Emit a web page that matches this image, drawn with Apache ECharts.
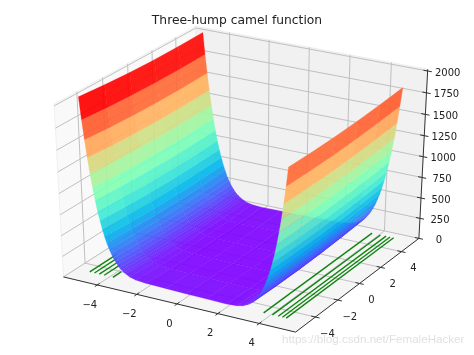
<!DOCTYPE html>
<html>
<head>
<meta charset="utf-8">
<script src="https://cdn.jsdelivr.net/npm/echarts@6/dist/echarts.min.js"></script>
<style>
  html, body { margin: 0; padding: 0; background: #fff; }
  #main { width: 474px; height: 355px; }
</style>
</head>
<body>
<div id="main"></div>
<script>
// values
const xGrid = [-5, -4.9, -4.8, -4.7, -4.6, -4.5, -4.4, -4.3, -4.2, -4.1, -4, -3.9, -3.8, -3.7, -3.6, -3.5, -3.4, -3.3, -3.2, -3.1, -3, -2.8, -2.5, -2, -1, 0, 1, 2, 2.5, 2.8, 3, 3.1, 3.2, 3.3, 3.4, 3.5, 3.6, 3.7, 3.8, 3.9, 4, 4.1, 4.2, 4.3, 4.4, 4.5, 4.6, 4.7, 4.8, 4.9]
const yGrid = [-5, -3, -1, 1, 3, 5.1]
const zAtY1 = [2075, 1825, 1604, 1404, 1223, 1067, 927, 801, 696, 600, 515, 444, 379, 328, 278, 242, 207, 176, 156, 135, 120, 94, 74, 62, 56, 50, 46, 42, 49, 66, 90, 104, 124, 143, 173, 207, 242, 291, 341, 405, 475, 559, 654, 758, 883, 1022, 1177, 1356, 1556, 1775]
const zAtY2 = [2049, 1799, 1578, 1378, 1198, 1042, 902, 777, 672, 576, 491, 421, 355, 305, 255, 219, 184, 154, 134, 113, 98, 72, 53, 42, 38, 34, 32, 30, 38, 56, 80, 95, 114, 134, 164, 198, 233, 283, 333, 397, 467, 552, 646, 751, 876, 1015, 1170, 1350, 1550, 1769]
const zAtY3 = [2031, 1781, 1561, 1361, 1181, 1025, 885, 760, 655, 560, 475, 405, 340, 290, 240, 204, 169, 139, 119, 99, 84, 59, 40, 30, 28, 26, 26, 26, 35, 53, 78, 93, 113, 133, 163, 197, 232, 282, 332, 397, 467, 552, 647, 752, 877, 1016, 1171, 1351, 1551, 1771]
const zAtY4 = [2021, 1771, 1551, 1351, 1171, 1016, 877, 752, 647, 552, 467, 397, 332, 282, 232, 197, 163, 133, 113, 93, 78, 53, 35, 26, 26, 26, 28, 30, 40, 59, 84, 99, 119, 139, 169, 204, 240, 290, 340, 405, 475, 560, 655, 760, 885, 1025, 1181, 1361, 1561, 1781]
const zAtY5 = [2019, 1769, 1550, 1350, 1170, 1015, 876, 751, 646, 552, 467, 397, 333, 283, 233, 198, 164, 134, 114, 95, 80, 56, 38, 30, 32, 34, 38, 42, 53, 72, 98, 113, 134, 154, 184, 219, 255, 305, 355, 421, 491, 576, 672, 777, 902, 1042, 1198, 1378, 1578, 1799]
const zAtY6 = [2025, 1775, 1555, 1356, 1177, 1022, 882, 758, 653, 559, 474, 405, 340, 291, 241, 207, 172, 143, 123, 104, 89, 65, 49, 41, 45, 49, 55, 61, 73, 93, 119, 134, 155, 175, 206, 241, 277, 327, 378, 443, 514, 599, 695, 800, 926, 1066, 1222, 1402, 1603, 1823]
const zRows = [zAtY1, zAtY2, zAtY3, zAtY4, zAtY5, zAtY6]
const contourX = [-4.84, -4.6, -4.35, -4.1, -3.66, 3.8, 4.22, 4.5, 4.7, 4.88]
const contourStartY = -5
const contourEndY = [-2.8, -3.2, -3.45, -3.7, -4.3, 4.9, 4.9, 4.9, 4.9, 4.9]
const contourZ = 40
const xTicks = [-4, -2, 0, 2, 4]
const yTicks = [-4, -2, 0, 2, 4]
const zTicks = [0, 250, 500, 750, 1000, 1250, 1500, 1750, 2000]
const rainbowStops = ['#8000ff', '#4062fa', '#00b5ec', '#40ebd4', '#80ffb4', '#c0eb8e', '#ffb462', '#ff6232', '#ff0000']

// axis box
const xLim = [-5.73, 5.73]
const yLim = [-5.73, 5.73]
const zLim = [0, 2020]

// camera, same idea as mplot3d
const elev = 30 * Math.PI / 180
const azim = -60.3 * Math.PI / 180
const dist = 10
const n = [Math.cos(elev) * Math.cos(azim), Math.cos(elev) * Math.sin(azim), Math.sin(elev)]
const u = [-Math.sin(azim), Math.cos(azim), 0]
const v = [n[1] * u[2] - n[2] * u[1], n[2] * u[0] - n[0] * u[2], n[0] * u[1] - n[1] * u[0]]

// view plane -> pixels, used only for the axis extents
const scaleX = 267, originX = 244
const scaleY = 197.3, originY = 174

function toBox(p) {
  return [
    (p[0] - xLim[0]) / (xLim[1] - xLim[0]) - 0.5,
    (p[1] - yLim[0]) / (yLim[1] - yLim[0]) - 0.5,
    (p[2] - zLim[0]) / (zLim[1] - zLim[0]) - 0.5
  ]
}
function depth(p) {
  const b = toBox(p)
  return b[0] * n[0] + b[1] * n[1] + b[2] * n[2]
}
function project(p) {
  const b = toBox(p)
  const w = dist / (dist - depth(p))
  return [
    (b[0] * u[0] + b[1] * u[1] + b[2] * u[2]) * w,
    (b[0] * v[0] + b[1] * v[1] + b[2] * v[2]) * w
  ]
}

// panes
const panes = [
  { color: '#f9f9f9', pts: [[xLim[0], yLim[0], zLim[0]], [xLim[0], yLim[1], zLim[0]], [xLim[0], yLim[1], zLim[1]], [xLim[0], yLim[0], zLim[1]]] },
  { color: '#f1f1f1', pts: [[xLim[0], yLim[1], zLim[0]], [xLim[1], yLim[1], zLim[0]], [xLim[1], yLim[1], zLim[1]], [xLim[0], yLim[1], zLim[1]]] },
  { color: '#f5f5f5', pts: [[xLim[0], yLim[0], zLim[0]], [xLim[1], yLim[0], zLim[0]], [xLim[1], yLim[1], zLim[0]], [xLim[0], yLim[1], zLim[0]]] }
]

// grid lines on the panes
const gridLines = []
xTicks.forEach(t => {
  gridLines.push([[t, yLim[0], zLim[0]], [t, yLim[1], zLim[0]], [t, yLim[1], zLim[1]]])
})
yTicks.forEach(t => {
  gridLines.push([[xLim[1], t, zLim[0]], [xLim[0], t, zLim[0]], [xLim[0], t, zLim[1]]])
})
zTicks.forEach(t => {
  gridLines.push([[xLim[0], yLim[0], t], [xLim[0], yLim[1], t], [xLim[1], yLim[1], t]])
})

// axis lines and tick marks
const axisLines = [
  [[xLim[0], yLim[0], zLim[0]], [xLim[1], yLim[0], zLim[0]]],
  [[xLim[1], yLim[0], zLim[0]], [xLim[1], yLim[1], zLim[0]]],
  [[xLim[1], yLim[1], zLim[0]], [xLim[1], yLim[1], zLim[1]]]
]
xTicks.forEach(t => axisLines.push([[t, yLim[0] - 0.2, zLim[0]], [t, yLim[0] + 0.2, zLim[0]]]))
yTicks.forEach(t => axisLines.push([[xLim[1] - 0.2, t, zLim[0]], [xLim[1] + 0.2, t, zLim[0]]]))
zTicks.forEach(t => axisLines.push([[xLim[1] - 0.2, yLim[1], t], [xLim[1] + 0.2, yLim[1], t]]))

// floor contours
const contourLines = contourX.map((x, i) => [[x, contourStartY, contourZ], [x, contourEndY[i], contourZ]])

// surface faces, far ones first
const faces = []
for (let i = 0; i < xGrid.length - 1; i++) {
  for (let j = 0; j < yGrid.length - 1; j++) {
    const pts = [
      [xGrid[i], yGrid[j], zRows[j][i]],
      [xGrid[i + 1], yGrid[j], zRows[j][i + 1]],
      [xGrid[i + 1], yGrid[j + 1], zRows[j + 1][i + 1]],
      [xGrid[i], yGrid[j + 1], zRows[j + 1][i]]
    ]
    faces.push({
      pts: pts,
      level: pts.reduce((s, p) => s + p[2], 0) / 4,
      order: pts.reduce((s, p) => s + depth(p), 0) / 4
    })
  }
}
faces.sort((a, b) => a.order - b.order)

// tick labels: value, position in the box, pixel offset from it
const tickLabels = []
xTicks.forEach(t => tickLabels.push({ text: String(t).replace('-', '\u2212'), at: [t, yLim[0], zLim[0]], dx: -7.5, dy: 20 }))
yTicks.forEach(t => tickLabels.push({ text: String(t).replace('-', '\u2212'), at: [xLim[1], t, zLim[0]], dx: 12, dy: 17 }))
zTicks.forEach(t => tickLabels.push({ text: String(t), at: [xLim[1], yLim[1], t], dx: 20, dy: 2 }))

function toPixels(api, pts) {
  return pts.map(p => api.coord(project(p)))
}

function lineSeries(lines, color, width, zlevel) {
  return {
    type: 'custom',
    coordinateSystem: 'cartesian2d',
    silent: true,
    z: zlevel,
    data: lines.map((l, i) => [i]),
    renderItem: (params, api) => ({
      type: 'polyline',
      shape: { points: toPixels(api, lines[params.dataIndex]) },
      style: { stroke: color, lineWidth: width, fill: 'none' }
    })
  }
}

const option = {
  animation: false,
  backgroundColor: '#fff',
  textStyle: { fontFamily: 'DejaVu Sans' },
  title: {
    text: 'Three-hump camel function',
    left: 'center',
    top: 10,
    textStyle: { color: '#222', fontSize: 12.3, fontWeight: 'normal', fontFamily: 'DejaVu Sans' }
  },
  grid: { left: 0, right: 0, top: 0, bottom: 0 },
  xAxis: { type: 'value', show: false, min: -originX / scaleX, max: (474 - originX) / scaleX },
  yAxis: { type: 'value', show: false, min: (originY - 355) / scaleY, max: originY / scaleY },
  visualMap: {
    show: false,
    type: 'continuous',
    seriesIndex: 4,
    dimension: 0,
    min: 25,
    max: 1925,
    inRange: { color: rainbowStops }
  },
  graphic: [{
    type: 'text',
    left: 282,
    top: 334,
    silent: true,
    style: { text: 'https://blog.csdn.net/FemaleHacker', fill: 'rgba(150,150,150,0.3)', font: '11.6px "Liberation Sans"' }
  }],
  series: [
    {
      type: 'custom',
      coordinateSystem: 'cartesian2d',
      silent: true,
      z: 1,
      data: panes.map((p, i) => [i]),
      renderItem: (params, api) => ({
        type: 'polygon',
        shape: { points: toPixels(api, panes[params.dataIndex].pts) },
        style: { fill: panes[params.dataIndex].color, stroke: '#ececec', lineWidth: 0.8 }
      })
    },
    lineSeries(gridLines, '#c0c0c0', 1, 2),
    lineSeries(axisLines, '#333', 1, 3),
    lineSeries(contourLines, '#108510', 1.4, 4),
    {
      type: 'custom',
      coordinateSystem: 'cartesian2d',
      silent: true,
      z: 5,
      data: faces.map(f => [f.level]),
      renderItem: (params, api) => {
        const color = api.visual('color')
        return {
          type: 'polygon',
          shape: { points: toPixels(api, faces[params.dataIndex].pts) },
          style: { fill: color, stroke: color, lineWidth: 0.3, opacity: 0.92 }
        }
      }
    },
    {
      type: 'custom',
      coordinateSystem: 'cartesian2d',
      silent: true,
      z: 6,
      data: tickLabels.map((l, i) => [i]),
      renderItem: (params, api) => {
        const l = tickLabels[params.dataIndex]
        const c = api.coord(project(l.at))
        return {
          type: 'text',
          style: {
            text: l.text,
            x: c[0] + l.dx,
            y: c[1] + l.dy,
            textAlign: 'center',
            textVerticalAlign: 'middle',
            fill: '#222',
            font: '10px "DejaVu Sans"'
          }
        }
      }
    }
  ]
}

const chart = echarts.init(document.getElementById('main'))
chart.setOption(option)
</script>
</body>
</html>
